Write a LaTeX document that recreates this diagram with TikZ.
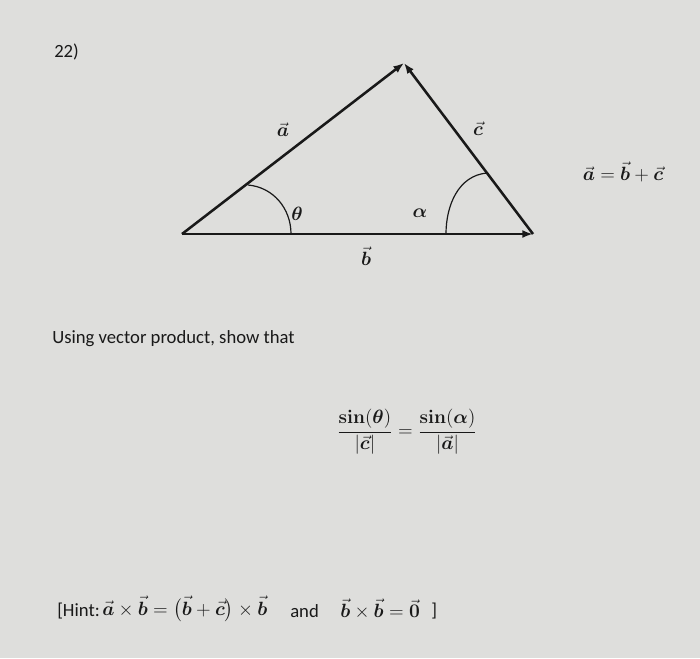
\documentclass[tikz,border=0pt]{standalone}
\usepackage[no-math]{fontspec}
\usepackage{amsmath,bm}
\setmainfont{Carlito}
\usetikzlibrary{arrows.meta}
\definecolor{paper}{RGB}{222,222,220}
\definecolor{ink}{RGB}{25,25,25}
\newcommand{\va}{\vec{\bm a}}
\newcommand{\vb}{\vec{\bm b}}
\newcommand{\vc}{\vec{\bm c}}
\begin{document}
\begin{tikzpicture}[x=0.75pt,y=-0.75pt]
	\tikzset{side/.style={ink,line width=1.9pt,-{Latex[length=8pt,width=6pt]}},
		anglearc/.style={ink,line width=0.9pt},
		lbl/.style={inner sep=0pt,text=ink,font=\fontsize{14.5}{17}\selectfont},
		txt/.style={inner sep=0pt,text=ink,anchor=west,font=\fontsize{14}{17}\selectfont}}
	\fill [paper] (0,0) rectangle (700,658);
	\useasboundingbox (0,0) rectangle (700,658);
	% triangle corners
	\coordinate (P) at (182,234);
	\coordinate (Q) at (533,234);
	\coordinate (R) at (404,63);
	\draw [side] (P) -- (Q);
	\draw [side] (P) -- (R);
	\draw [side] (Q) -- (R);
	% angles
	\coordinate (t1) at (291,234);
	\coordinate (t2) at (248,185);
	\coordinate (s1) at (446,234);
	\coordinate (s2) at (487,173);
	\draw [anglearc] (t1) to[out=90,in=-5] (t2);
	\draw [anglearc] (s1) to[out=90,in=185] (s2);
	\node [lbl] (theta) at (297,214) {$\bm\theta$};
	\node [lbl] (alpha) at (420,213) {$\bm\alpha$};
	\node [lbl] (la) at (283,130) {$\va$};
	\node [lbl] (lc) at (478,129) {$\vc$};
	\node [lbl] (lb) at (366,256) {$\vb$};
	\node [lbl] (sum) at (623,172) {$\va=\vb+\vc$};
	% text
	\node [txt] (num) at (54,52) {22)};
	\node [txt] (task) at (52,339) {Using vector product, show that};
	\node [lbl] (frac) at (407,432) {$\dfrac{\mathbf{sin}(\bm\theta)}{|\vc|}=\dfrac{\mathbf{sin}(\bm\alpha)}{|\va|}$};
	% hint line
	\node [txt] (hint) at (57,611) {[Hint:};
	\node [lbl,anchor=west] (hintl) at (102,609) {$\va\times\vb=\bigl(\vb+\vc\bigr)\times\vb$};
	\node [txt] (and) at (290,611) {and};
	\node [lbl,anchor=west] (hintr) at (340,609) {$\vb\times\vb=\vec{\bm 0}$};
	\node [txt] (close) at (431,611) {]};
\end{tikzpicture}
\end{document}
